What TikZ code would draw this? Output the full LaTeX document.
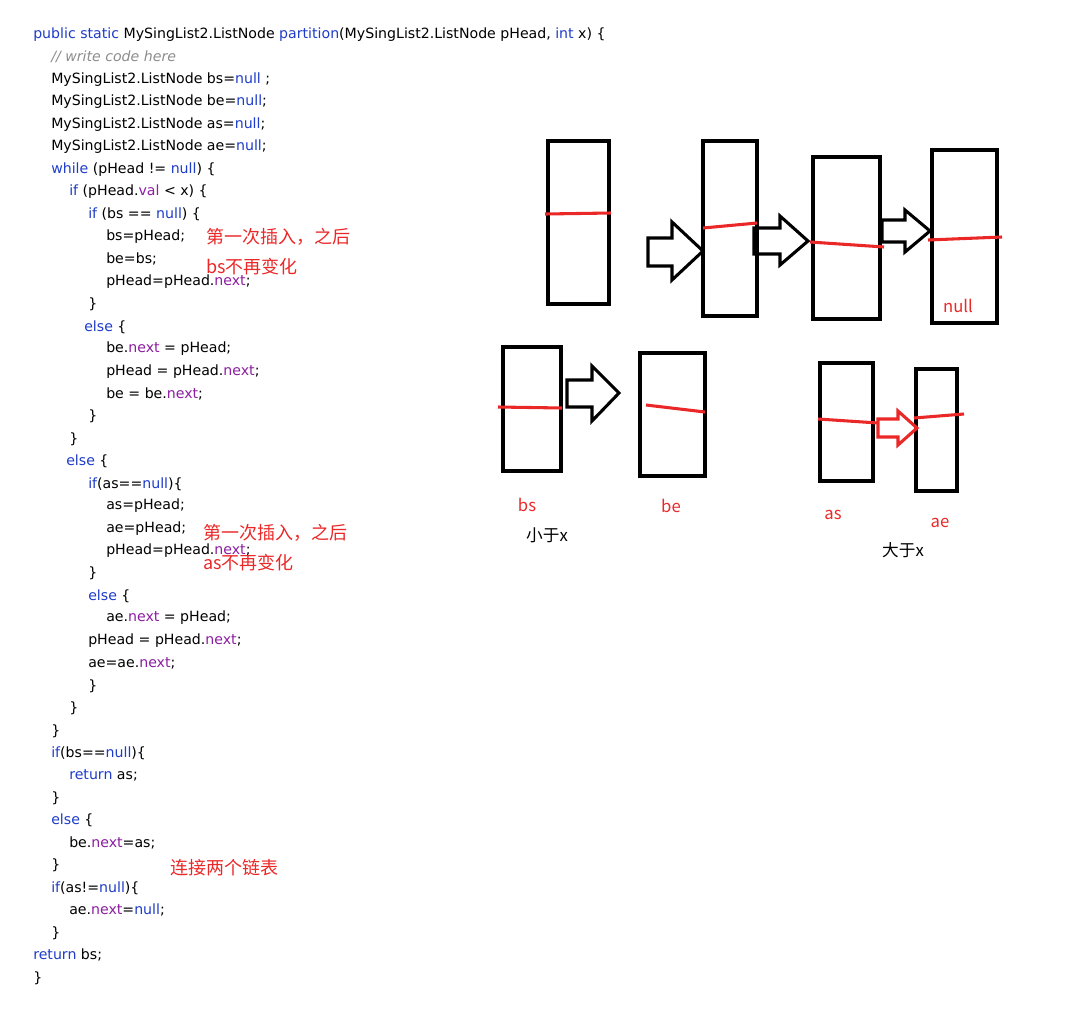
\documentclass[tikz,border=0pt]{standalone}
\usepackage{fontspec}
\setmainfont{DejaVu Sans}
\newfontfamily\cjk{Noto Sans CJK SC}
\definecolor{kw}{RGB}{30,60,200}
\definecolor{fd}{RGB}{140,30,160}
\definecolor{cm}{RGB}{140,140,140}
\definecolor{rd}{RGB}{235,40,40}
\newcommand{\K}[1]{\textcolor{kw}{#1}}
\newcommand{\F}[1]{\textcolor{fd}{#1}}
\begin{document}
\begin{tikzpicture}[x=0.75pt,y=-0.75pt,
  code/.style={anchor=west,inner sep=0pt,font=\fontsize{10.6}{12}\selectfont},
  note/.style={anchor=west,inner sep=0pt,text=rd,font=\cjk\fontsize{13.5}{15}\selectfont},
  lbl/.style={inner sep=0pt,font=\cjk\fontsize{12.5}{14}\selectfont},
  box/.style={draw=black,line width=2.3pt},
  rl/.style={draw=rd,line width=2.3pt},
  barrow/.style={draw=black,line width=2.3pt,line join=miter}]
\useasboundingbox (0,0) rectangle (1088,1018);
% code
\node[code] (l1) at (33,35) {\K{public static} MySingList2.ListNode \K{partition}(MySingList2.ListNode pHead, \K{int} x) \{};
\node[code,text=cm,font=\itshape\fontsize{10.6}{12}\selectfont] (l2) at (51,57) {// write code here};
\node[code] (l3) at (51,80) {MySingList2.ListNode bs=\K{null} ;};
\node[code] (l4) at (51,102) {MySingList2.ListNode be=\K{null};};
\node[code] (l5) at (51,125) {MySingList2.ListNode as=\K{null};};
\node[code] (l6) at (51,147) {MySingList2.ListNode ae=\K{null};};
\node[code] (l7) at (51,170) {\K{while} (pHead != \K{null}) \{};
\node[code] (l8) at (69,192) {\K{if} (pHead.\F{val} < x) \{};
\node[code] (l9) at (88,214) {\K{if} (bs == \K{null}) \{};
\node[code] (l10) at (106,237) {bs=pHead;};
\node[code] (l11) at (106,259) {be=bs;};
\node[code] (l12) at (106,282) {pHead=pHead.\F{next};};
\node[code] (l13) at (88,304) {\}};
\node[code] (l14) at (84,327) {\K{else} \{};
\node[code] (l15) at (106,349) {be.\F{next} = pHead;};
\node[code] (l16) at (106,372) {pHead = pHead.\F{next};};
\node[code] (l17) at (106,394) {be = be.\F{next};};
\node[code] (l18) at (88,416) {\}};
\node[code] (l19) at (69,439) {\}};
\node[code] (l20) at (66,461) {\K{else} \{};
\node[code] (l21) at (88,484) {\K{if}(as==\K{null})\{};
\node[code] (l22) at (106,506) {as=pHead;};
\node[code] (l23) at (106,529) {ae=pHead;};
\node[code] (l24) at (106,551) {pHead=pHead.\F{next};};
\node[code] (l25) at (88,573) {\}};
\node[code] (l26) at (88,596) {\K{else} \{};
\node[code] (l27) at (106,618) {ae.\F{next} = pHead;};
\node[code] (l28) at (88,641) {pHead = pHead.\F{next};};
\node[code] (l29) at (88,663) {ae=ae.\F{next};};
\node[code] (l30) at (88,686) {\}};
\node[code] (l31) at (69,708) {\}};
\node[code] (l32) at (51,731) {\}};
\node[code] (l33) at (51,753) {\K{if}(bs==\K{null})\{};
\node[code] (l34) at (69,775) {\K{return} as;};
\node[code] (l35) at (51,798) {\}};
\node[code] (l36) at (51,820) {\K{else} \{};
\node[code] (l37) at (69,843) {be.\F{next}=as;};
\node[code] (l38) at (51,865) {\}};
\node[code] (l39) at (51,888) {\K{if}(as!=\K{null})\{};
\node[code] (l40) at (69,910) {ae.\F{next}=\K{null};};
\node[code] (l41) at (51,933) {\}};
\node[code] (l42) at (33,955) {\K{return} bs;};
\node[code] (l43) at (33,978) {\}};
% notes
\node[note] (n1) at (206,237) {第一次插入，之后};
\node[note] (n2) at (206,267) {bs不再变化};
\node[note] (n3) at (203,533) {第一次插入，之后};
\node[note] (n4) at (203,563) {as不再变化};
\node[note] (n5) at (170,868) {连接两个链表};
% top row boxes
\draw[box] (548,141) rectangle (609,304);
\draw[rl] (545,214) -- (611,213);
\draw[box] (703,141) rectangle (757,316);
\draw[rl] (703,228) -- (757,223);
\draw[box] (813,157) rectangle (880,319);
\draw[rl] (810,242) -- (884,247);
\draw[box] (932,150) rectangle (997,323);
\draw[rl] (928,240) -- (1002,237);
\node[lbl,text=rd] (null) at (958,306) {null};
% block arrows
\draw[barrow] (648,238) -- (672,238) -- (672,222) -- (703,251) -- (672,280) -- (672,266) -- (648,266) -- cycle;
\draw[barrow] (754,228) -- (780,228) -- (780,216) -- (808,241) -- (780,265) -- (780,254) -- (754,254) -- cycle;
\draw[barrow] (882,220) -- (905,220) -- (905,210) -- (930,231) -- (905,252) -- (905,242) -- (882,242) -- cycle;
% bottom row
\draw[box] (503,347) rectangle (561,471);
\draw[rl] (498,407) -- (562,408);
\draw[barrow] (567,380) -- (592,380) -- (592,366) -- (619,393) -- (592,421) -- (592,407) -- (567,407) -- cycle;
\draw[box] (640,353) rectangle (705,476);
\draw[rl] (646,405) -- (705,412);
\draw[box] (820,363) rectangle (873,481);
\draw[rl] (818,419) -- (878,423);
\draw[box] (916,369) rectangle (957,491);
\draw[rl] (914,418) -- (964,414);
\draw[draw=rd,line width=2.3pt] (878,419) -- (898,419) -- (898,411) -- (917,428) -- (898,445) -- (898,437) -- (878,437) -- cycle;
% labels
\node[lbl,text=rd] (bs) at (527,505) {bs};
\node[lbl,text=rd] (be) at (671,506) {be};
\node[lbl] (lt) at (547,535) {小于x};
\node[lbl,text=rd] (as) at (833,515) {as};
\node[lbl,text=rd] (ae) at (940,523) {ae};
\node[lbl] (gt) at (903,550) {大于x};
\end{tikzpicture}
\end{document}
